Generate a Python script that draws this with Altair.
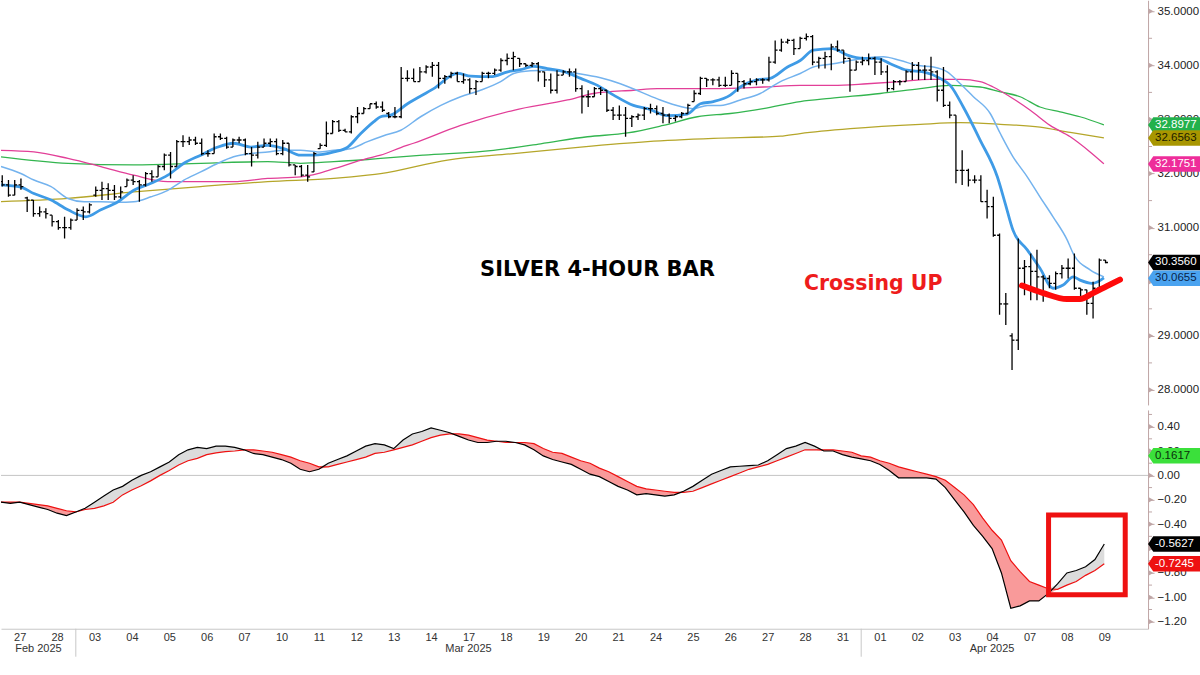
import altair as alt
import pandas as pd

W = 1148
H_TOP = 405
H_BOT = 219
X_MAX = 30.67
P_DOMAIN = [27.723, 35.203]
M_DOMAIN = [-1.258, 0.537]
AX = "#bfa6a6"

# ---------------- 4-hour OHLC bars ----------------
opens = [31.85, 31.79, 31.60, 31.79, 31.55, 31.51, 31.26, 31.29, 31.23, 31.11,
         31.00, 31.00, 31.14, 31.32, 31.29, 31.60, 31.69, 31.72, 31.69, 31.57,
         31.76, 31.88, 31.85, 31.79, 32.00, 31.94, 32.13, 32.34, 32.13, 32.59,
         32.59, 32.62, 32.56, 32.37, 32.37, 32.68, 32.65, 32.49, 32.62, 32.62,
         32.37, 32.34, 32.49, 32.56, 32.59, 32.37, 32.56, 32.16, 32.13, 31.97,
         32.03, 32.46, 32.52, 32.74, 32.96, 32.80, 32.77, 33.05, 33.11, 33.20,
         33.29, 33.23, 33.11, 33.05, 33.05, 33.76, 33.76, 33.70, 33.88, 33.97,
         34.00, 33.76, 33.79, 33.85, 33.70, 33.73, 33.57, 33.70, 33.85, 33.85,
         33.91, 34.09, 34.13, 34.13, 34.03, 34.00, 34.03, 33.88, 33.73, 33.54,
         33.82, 33.88, 33.88, 33.57, 33.42, 33.42, 33.57, 33.54, 33.17, 33.08,
         33.08, 33.02, 33.05, 33.08, 33.20, 33.20, 33.11, 33.08, 33.02, 33.05,
         33.11, 33.33, 33.48, 33.76, 33.73, 33.73, 33.63, 33.63, 33.85, 33.70,
         33.66, 33.70, 33.73, 33.73, 34.06, 34.28, 34.43, 34.46, 34.31, 34.50,
         34.53, 34.06, 34.13, 34.16, 34.34, 34.28, 34.13, 33.91, 34.06, 34.09,
         34.13, 34.06, 33.88, 33.57, 33.70, 33.70, 33.88, 34.00, 33.91, 33.91,
         33.88, 33.54, 33.26, 33.08, 32.06, 32.06, 31.88, 31.88, 31.48, 31.39,
         30.86, 29.59, 29.00, 28.92, 30.25, 30.28, 30.19, 30.09, 30.06, 29.97,
         30.15, 30.25, 30.25, 29.88, 29.85, 29.60, 29.88, 30.40]
highs = [31.97, 31.88, 31.88, 31.91, 31.57, 31.51, 31.39, 31.36, 31.23, 31.14,
         31.20, 31.17, 31.36, 31.39, 31.45, 31.76, 31.85, 31.82, 31.79, 31.76,
         31.91, 31.97, 31.88, 32.03, 32.06, 32.16, 32.37, 32.40, 32.62, 32.71,
         32.68, 32.68, 32.65, 32.43, 32.74, 32.74, 32.68, 32.65, 32.68, 32.65,
         32.49, 32.59, 32.65, 32.65, 32.65, 32.62, 32.56, 32.16, 32.16, 32.16,
         32.40, 32.56, 32.96, 32.99, 32.99, 32.83, 33.08, 33.23, 33.23, 33.29,
         33.33, 33.33, 33.14, 33.23, 33.97, 33.91, 33.94, 33.97, 34.00, 34.06,
         34.06, 33.82, 33.88, 33.88, 33.85, 33.76, 33.73, 33.88, 33.88, 33.94,
         34.13, 34.22, 34.25, 34.13, 34.03, 34.06, 34.06, 33.88, 33.85, 33.91,
         33.91, 33.94, 33.94, 33.63, 33.54, 33.60, 33.60, 33.54, 33.23, 33.26,
         33.23, 33.08, 33.11, 33.23, 33.29, 33.26, 33.23, 33.11, 33.08, 33.14,
         33.29, 33.54, 33.79, 33.76, 33.76, 33.79, 33.79, 33.91, 33.85, 33.73,
         33.76, 33.76, 33.76, 34.16, 34.46, 34.49, 34.49, 34.49, 34.53, 34.59,
         34.56, 34.16, 34.25, 34.40, 34.46, 34.28, 34.13, 34.09, 34.16, 34.22,
         34.16, 34.13, 34.00, 33.73, 33.73, 33.91, 34.06, 34.06, 34.00, 34.16,
         33.91, 33.97, 33.33, 33.08, 32.43, 32.09, 31.97, 31.97, 31.70, 31.57,
         30.89, 29.79, 29.05, 30.80, 30.40, 30.52, 30.59, 30.12, 30.12, 30.19,
         30.31, 30.43, 30.52, 29.88, 29.85, 30.00, 30.43, 30.40]
lows = [31.76, 31.57, 31.60, 31.70, 31.29, 31.20, 31.20, 31.17, 31.02, 30.96,
        30.80, 30.96, 31.14, 31.14, 31.26, 31.57, 31.51, 31.51, 31.51, 31.54,
        31.76, 31.79, 31.48, 31.76, 31.85, 31.94, 32.06, 31.91, 32.13, 32.49,
        32.53, 32.53, 32.34, 32.31, 32.37, 32.62, 32.46, 32.49, 32.56, 32.34,
        32.13, 32.28, 32.49, 32.49, 32.34, 32.34, 32.13, 31.97, 31.94, 31.85,
        32.03, 32.46, 32.49, 32.74, 32.77, 32.77, 32.74, 32.93, 33.11, 33.20,
        33.20, 33.14, 33.02, 33.02, 33.02, 33.70, 33.70, 33.70, 33.85, 33.79,
        33.57, 33.66, 33.76, 33.70, 33.66, 33.48, 33.45, 33.70, 33.76, 33.82,
        33.88, 34.00, 33.91, 33.97, 33.97, 33.97, 33.70, 33.60, 33.48, 33.48,
        33.82, 33.79, 33.51, 33.11, 33.23, 33.42, 33.45, 33.14, 32.99, 32.99,
        32.68, 32.86, 32.99, 32.99, 33.11, 33.08, 32.93, 32.93, 32.96, 33.02,
        33.11, 33.33, 33.45, 33.60, 33.63, 33.60, 33.60, 33.63, 33.51, 33.57,
        33.63, 33.63, 33.66, 33.70, 34.03, 34.25, 34.40, 34.19, 34.31, 34.46,
        34.00, 33.94, 33.94, 33.91, 34.25, 34.03, 33.51, 33.91, 34.00, 34.00,
        33.82, 33.82, 33.51, 33.54, 33.63, 33.70, 33.73, 33.73, 33.73, 33.73,
        33.33, 33.23, 33.02, 31.82, 31.79, 31.76, 31.82, 31.48, 31.17, 30.83,
        29.39, 29.20, 28.37, 28.74, 29.75, 29.66, 29.66, 29.63, 29.88, 29.85,
        30.06, 30.06, 29.85, 29.69, 29.39, 29.32, 29.88, 30.34]
closes = [31.79, 31.60, 31.79, 31.76, 31.51, 31.26, 31.29, 31.26, 31.11, 31.00,
          31.00, 31.14, 31.32, 31.29, 31.42, 31.69, 31.72, 31.69, 31.57, 31.66,
          31.88, 31.85, 31.79, 32.00, 31.94, 32.13, 32.34, 32.13, 32.59, 32.59,
          32.62, 32.56, 32.37, 32.37, 32.68, 32.65, 32.49, 32.62, 32.62, 32.37,
          32.34, 32.49, 32.56, 32.59, 32.37, 32.56, 32.16, 32.13, 31.97, 31.94,
          32.37, 32.52, 32.74, 32.96, 32.80, 32.77, 33.05, 33.11, 33.20, 33.29,
          33.23, 33.17, 33.05, 33.05, 33.76, 33.76, 33.70, 33.88, 33.97, 34.00,
          33.76, 33.79, 33.85, 33.70, 33.73, 33.57, 33.70, 33.85, 33.85, 33.91,
          34.09, 34.13, 34.16, 34.03, 34.00, 34.03, 33.88, 33.73, 33.54, 33.82,
          33.88, 33.88, 33.57, 33.42, 33.42, 33.57, 33.54, 33.17, 33.08, 33.08,
          33.02, 33.05, 33.08, 33.20, 33.20, 33.11, 33.08, 33.02, 33.05, 33.11,
          33.26, 33.48, 33.76, 33.73, 33.73, 33.63, 33.63, 33.85, 33.70, 33.66,
          33.70, 33.73, 33.73, 34.06, 34.28, 34.43, 34.46, 34.31, 34.50, 34.53,
          34.06, 34.13, 34.16, 34.34, 34.28, 34.13, 33.91, 34.06, 34.09, 34.13,
          34.06, 33.88, 33.57, 33.70, 33.70, 33.88, 34.00, 33.91, 33.91, 33.88,
          33.54, 33.26, 33.08, 32.06, 32.06, 31.88, 31.88, 31.48, 31.39, 30.86,
          29.59, 29.59, 28.92, 30.25, 30.28, 30.19, 30.09, 30.06, 29.97, 30.15,
          30.25, 30.25, 29.88, 29.85, 29.60, 29.88, 30.40, 30.356]

# ---------------- moving averages (day position, price) ----------------
ma_fast_t = [0, 0.53, 0.88, 1.34, 1.79, 2.27, 2.67, 3.13, 3.55, 4.01, 4.46, 4.89, 5.34, 5.80,
             6.22, 6.68, 7.13, 7.56, 8.01, 8.36, 8.90, 9.27, 9.62, 9.97, 10.15, 10.42, 10.87,
             11.57, 12.21, 12.56, 13.09, 13.55, 13.89, 14.24, 14.61, 15.04, 15.50, 15.95, 16.38,
             16.91, 17.29, 17.82, 18.35, 18.70, 19.05, 19.50, 19.77, 20.22, 20.57, 21.03, 21.37,
             21.72, 22.23, 22.63, 23.06, 23.43, 23.78, 24.23, 24.66, 25.11, 25.38, 25.73, 26.18,
             26.64, 26.85, 27.06, 27.44, 27.78, 28.13, 28.40, 28.67, 28.85, 29.17, 29.33, 29.49]
ma_fast_v = [31.79, 31.75, 31.63, 31.51, 31.33, 31.20, 31.33, 31.48, 31.69, 31.82, 31.97, 32.19,
             32.34, 32.49, 32.56, 32.49, 32.52, 32.46, 32.34, 32.34, 32.40, 32.49, 32.74, 32.96,
             33.05, 33.08, 33.29, 33.57, 33.85, 33.80, 33.79, 33.88, 33.92, 33.98, 33.94, 33.89,
             33.76, 33.63, 33.45, 33.26, 33.20, 33.07, 33.10, 33.29, 33.33, 33.45, 33.60, 33.73,
             33.76, 33.97, 34.09, 34.28, 34.31, 34.19, 34.13, 34.13, 34.03, 33.91, 33.88, 33.76,
             33.63, 33.23, 32.62, 31.94, 31.45, 30.95, 30.59, 30.25, 29.88, 29.94, 30.09, 30.03,
             29.97, 30.00, 30.07]
ma_slow_t = [0, 0.53, 0.88, 1.34, 1.79, 2.22, 2.67, 3.13, 3.55, 4.01, 4.46, 4.89, 5.34, 5.80,
             6.22, 6.68, 7.13, 7.56, 8.01, 8.47, 8.90, 9.35, 9.80, 10.23, 10.69, 11.22, 11.76,
             12.29, 12.82, 13.36, 13.71, 14.16, 14.61, 15.04, 15.50, 16.03, 16.56, 17.10, 17.63,
             18.17, 18.51, 18.89, 19.24, 19.77, 20.30, 20.84, 21.37, 21.72, 22.25, 22.71, 23.16,
             23.59, 24.05, 24.50, 24.93, 25.30, 25.65, 26.00, 26.45, 26.72, 27.06, 27.44, 27.78,
             28.13, 28.51, 28.67, 29.12, 29.49]
ma_slow_v = [32.13, 32.00, 31.88, 31.76, 31.54, 31.48, 31.48, 31.47, 31.48, 31.57, 31.69, 31.88,
             32.03, 32.19, 32.31, 32.37, 32.40, 32.43, 32.43, 32.40, 32.43, 32.46, 32.59, 32.70,
             32.80, 33.05, 33.26, 33.42, 33.54, 33.70, 33.85, 33.90, 33.91, 33.88, 33.84, 33.77,
             33.66, 33.51, 33.36, 33.24, 33.20, 33.26, 33.26, 33.36, 33.48, 33.70, 33.85, 33.97,
             34.03, 34.09, 34.14, 34.16, 34.09, 34.00, 33.97, 33.88, 33.66, 33.42, 33.11, 32.74,
             32.31, 31.94, 31.57, 31.20, 30.77, 30.52, 30.22, 30.09]
ma50_t = [0, 0.88, 1.79, 2.67, 3.55, 4.46, 5.34, 6.22, 7.13, 8.01, 8.47, 8.90, 9.80, 10.15,
          10.69, 11.03, 12.29, 13.71, 15.15, 15.84, 16.91, 17.55, 19.05, 20.38, 21.37, 22.25,
          23.16, 24.05, 24.85, 25.65, 26.18, 26.53, 26.98, 27.52, 28.05, 28.59, 29.12, 29.49]
ma50_v = [32.43, 32.40, 32.28, 32.13, 31.97, 31.85, 31.85, 31.85, 31.91, 31.94, 32.00, 32.09,
          32.28, 32.34, 32.48, 32.56, 32.89, 33.17, 33.36, 33.48, 33.54, 33.57, 33.57, 33.60,
          33.63, 33.63, 33.66, 33.70, 33.74, 33.74, 33.70, 33.60, 33.42, 33.17, 32.89, 32.68,
          32.40, 32.18]
ma100_t = [0, 1.79, 3.55, 5.34, 7.13, 8.01, 8.90, 9.80, 10.15, 11.30, 13.17, 14.43, 15.68,
           16.75, 17.71, 18.62, 19.50, 20.38, 21.37, 22.17, 23.51, 24.58, 25.38, 26.18, 26.72,
           27.25, 27.78, 28.32, 28.85, 29.49]
ma100_v = [32.31, 32.19, 32.16, 32.19, 32.22, 32.19, 32.22, 32.26, 32.28, 32.34, 32.43, 32.55,
           32.68, 32.75, 32.89, 33.05, 33.11, 33.20, 33.33, 33.39, 33.48, 33.57, 33.63, 33.60,
           33.51, 33.42, 33.23, 33.14, 33.05, 32.90]
ma200_t = [0, 1.79, 3.55, 5.34, 7.13, 8.90, 9.80, 10.15, 11.94, 13.71, 15.50, 17.29, 19.05,
           20.84, 21.37, 22.71, 24.58, 25.65, 26.72, 27.78, 28.59, 29.49]
ma200_v = [31.48, 31.54, 31.66, 31.76, 31.85, 31.91, 31.97, 32.00, 32.25, 32.37, 32.49, 32.59,
           32.65, 32.69, 32.74, 32.83, 32.91, 32.94, 32.91, 32.86, 32.76, 32.66]

# ---------------- MACD (every quarter day) ----------------
macd = [-0.22, -0.23, -0.22, -0.24, -0.26, -0.28, -0.31, -0.33, -0.30, -0.27,
        -0.22, -0.17, -0.12, -0.09, -0.04, 0.00, 0.03, 0.07, 0.11, 0.17,
        0.21, 0.23, 0.22, 0.24, 0.24, 0.23, 0.21, 0.18, 0.17, 0.15,
        0.13, 0.10, 0.05, 0.03, 0.05, 0.10, 0.13, 0.16, 0.20, 0.24,
        0.26, 0.25, 0.22, 0.29, 0.34, 0.36, 0.39, 0.37, 0.35, 0.32,
        0.29, 0.27, 0.27, 0.28, 0.28, 0.27, 0.25, 0.21, 0.16, 0.13,
        0.11, 0.09, 0.05, 0.01, -0.01, -0.05, -0.09, -0.12, -0.16, -0.15,
        -0.16, -0.17, -0.16, -0.13, -0.09, -0.04, 0.01, 0.04, 0.07, 0.075,
        0.08, 0.085, 0.12, 0.17, 0.22, 0.24, 0.27, 0.24, 0.20, 0.20,
        0.17, 0.15, 0.135, 0.12, 0.09, 0.04, -0.02, -0.02, -0.02, -0.02,
        -0.03, -0.10, -0.20, -0.30, -0.41, -0.50, -0.60, -0.80, -1.09, -1.07,
        -1.03, -1.03, -0.97, -0.89, -0.80, -0.78, -0.75, -0.69, -0.5627]
signal = [-0.22, -0.22, -0.22, -0.23, -0.24, -0.25, -0.27, -0.29, -0.30, -0.28,
          -0.27, -0.25, -0.22, -0.16, -0.12, -0.085, -0.045, 0.00, 0.04, 0.085,
          0.12, 0.14, 0.17, 0.185, 0.195, 0.20, 0.21, 0.21, 0.20, 0.19,
          0.17, 0.15, 0.12, 0.10, 0.07, 0.07, 0.09, 0.11, 0.13, 0.15,
          0.18, 0.19, 0.21, 0.23, 0.25, 0.28, 0.31, 0.33, 0.34, 0.34,
          0.33, 0.31, 0.29, 0.28, 0.27, 0.27, 0.27, 0.26, 0.22, 0.19,
          0.18, 0.15, 0.12, 0.10, 0.06, 0.03, -0.01, -0.05, -0.09, -0.11,
          -0.12, -0.13, -0.14, -0.14, -0.13, -0.10, -0.07, -0.04, -0.01, 0.02,
          0.05, 0.07, 0.09, 0.12, 0.15, 0.18, 0.21, 0.21, 0.21, 0.21,
          0.20, 0.19, 0.16, 0.15, 0.12, 0.10, 0.07, 0.05, 0.03, 0.01,
          -0.01, -0.04, -0.10, -0.16, -0.24, -0.35, -0.45, -0.53, -0.70, -0.79,
          -0.87, -0.90, -0.93, -0.935, -0.90, -0.87, -0.82, -0.78, -0.7245]

# ---------------- labels / annotations ----------------
day_labels = ["27", "28", "03", "04", "05", "06", "07", "10", "11", "12", "13", "14", "17", "18",
              "19", "20", "21", "24", "25", "26", "27", "28", "31", "01", "02", "03", "04", "07",
              "08", "09"]
months = ["Feb 2025", "Mar 2025", "Apr 2025"]
month_t = [1.0, 12.5, 26.5]
sep_t = [2.0, 23.0]
price_ticks = [28, 29, 30, 31, 32, 33, 34, 35]
price_minor = [28.5, 29.5, 30.5, 31.5, 32.5, 33.5, 34.5]
price_hidden = [30]          # label fully covered by a value tag
macd_ticks = [0.4, 0.2, 0.0, -0.2, -0.4, -0.6, -0.8, -1.0, -1.2]
macd_minor = [0.5, 0.3, 0.1, -0.1, -0.3, -0.5, -0.7, -0.9, -1.1]
macd_hidden = [-0.6]         # label fully covered by a value tag

top_tag_v = [32.8977, 32.6563, 32.1751, 30.3560, 30.0655]
top_tag_fill = ["#22b14c", "#a89600", "#ee2d9a", "#000000", "#4aa3f0"]
top_tag_text = ["#ffffff", "#1c1c00", "#ffffff", "#ffffff", "#0a2448"]
bot_tag_v = [0.1617, -0.5627, -0.7245]
bot_tag_fill = ["#3be03b", "#000000", "#ee1111"]
bot_tag_text = ["#0a300a", "#ffffff", "#ffffff"]

curve_t = [27.30, 27.87, 28.50, 28.85, 29.20, 29.57, 29.92]
curve_p = [29.93, 29.79, 29.68, 29.68, 29.79, 29.92, 30.04]
box_t = [28.01, 30.06]
box_v = [-0.324, -0.98]
note_t = [15.95, 23.32]
note_v = [30.216, 29.958]
note_txt = ["SILVER 4-HOUR BAR", "Crossing UP"]

# ---------------- build ----------------
xs = alt.Scale(domain=[0, X_MAX], nice=False, zero=False)
ys = alt.Scale(domain=P_DOMAIN, nice=False, zero=False)
ms = alt.Scale(domain=M_DOMAIN, nice=False, zero=False)


def hide_expr(hidden, fmt):
    cond = " || ".join("abs(datum.value - (%s)) < 1e-6" % h for h in hidden)
    return "(%s) ? '' : format(datum.value, '%s')" % (cond, fmt)


price_axis = alt.Axis(orient="right", values=price_ticks, labelExpr=hide_expr(price_hidden, ".4f"),
                      grid=False, domainColor=AX, tickColor=AX, tickSize=6, labelPadding=3,
                      labelFontSize=11.5, labelColor="#222", title=None,
                      labelFont="Liberation Sans")
macd_axis = alt.Axis(orient="right", values=macd_ticks, labelExpr=hide_expr(macd_hidden, ".2f"),
                     grid=False, domainColor=AX, tickColor=AX, tickSize=6, labelPadding=3,
                     labelFontSize=11.5, labelColor="#222", title=None,
                     labelFont="Liberation Sans")
label_expr = "[" + ",".join("'%s'" % d for d in day_labels) + "][floor(datum.value)]"
day_axis = alt.Axis(values=[d + 0.5 for d in range(len(day_labels))], labelExpr=label_expr,
                    ticks=False, grid=False, domainColor="#c8c8c8", labelPadding=3,
                    labelFontSize=11, labelColor="#333", labelOverlap=False,
                    labelFlush=False, title=None, labelFont="Liberation Sans")


def TX(f="t"):
    return alt.X(f, type="quantitative", scale=xs, axis=None)


def BX(f="t"):
    return alt.X(f, type="quantitative", scale=xs, axis=day_axis)


def PY(f):
    return alt.Y(f, type="quantitative", scale=ys, axis=price_axis)


def MY(f):
    return alt.Y(f, type="quantitative", scale=ms, axis=macd_axis)


bars = pd.DataFrame({"t": [(i + 0.2) / 6 for i in range(len(closes))],
                     "o": opens, "h": highs, "l": lows, "c": closes})
bars["tl"] = bars["t"] - 0.065
bars["tr"] = bars["t"] + 0.065


def ma_line(ts, vs, color, width):
    df = pd.DataFrame({"t": ts, "v": vs})
    return alt.Chart(df).mark_line(color=color, strokeWidth=width, clip=True,
                                   interpolate="monotone").encode(x=TX(), y=PY("v"))


ma_layers = [
    ma_line(ma200_t, ma200_v, "#b5a62a", 1.3),
    ma_line(ma100_t, ma100_v, "#33b54f", 1.3),
    ma_line(ma50_t, ma50_v, "#e23f98", 1.3),
    ma_line(ma_slow_t, ma_slow_v, "#74b3ee", 1.5),
    ma_line(ma_fast_t, ma_fast_v, "#3f9be6", 2.8),
]

bar_base = alt.Chart(bars)
hl = bar_base.mark_rule(color="black", strokeWidth=1.3, clip=True).encode(
    x=TX(), y=PY("l"), y2="h")
op = bar_base.mark_rule(color="black", strokeWidth=1.3, clip=True).encode(
    x=TX("tl"), x2="t", y=PY("o"))
cl = bar_base.mark_rule(color="black", strokeWidth=1.3, clip=True).encode(
    x=TX("t"), x2="tr", y=PY("c"))

curve = alt.Chart(pd.DataFrame({"t": curve_t, "v": curve_p})).mark_line(
    color="#ff0a0a", strokeWidth=6, strokeCap="round", interpolate="monotone", clip=True
).encode(x=TX(), y=PY("v"))

notes = pd.DataFrame({"t": note_t, "v": note_v, "txt": note_txt})
note1 = alt.Chart(notes.iloc[[0]]).mark_text(font="DejaVu Sans", fontWeight="bold",
                                             fontSize=21, color="#000000").encode(
    x=TX(), y=PY("v"), text="txt:N")
note2 = alt.Chart(notes.iloc[[1]]).mark_text(font="DejaVu Sans", fontWeight="bold",
                                             fontSize=20.5, color="#ee1c1c").encode(
    x=TX(), y=PY("v"), text="txt:N")

TAG = "M -1 0 L -0.8 -0.3 L 1 -0.3 L 1 0.3 L -0.8 0.3 Z"


def axis_decor(vals, minors, yfun):
    tri = alt.Chart(pd.DataFrame({"v": vals})).mark_point(
        shape="triangle-right", size=28, filled=True, opacity=1, color=AX
    ).encode(x=alt.value(W + 3), y=yfun("v"))
    mn = alt.Chart(pd.DataFrame({"v": minors})).mark_rule(color=AX, strokeWidth=1).encode(
        x=alt.value(W), x2=alt.value(W + 4), y=yfun("v"))
    return [tri, mn]


def tags(vals, fills, tcols, yfun, fmt):
    df = pd.DataFrame({"v": vals, "fill": fills, "tc": tcols,
                       "lab": [fmt % v for v in vals]})
    shape = alt.Chart(df).mark_point(shape=TAG, size=2704, filled=True, opacity=1,
                                     strokeWidth=0).encode(
        x=alt.value(W + 26), y=yfun("v"), color=alt.Color("fill:N", scale=None))
    txt = alt.Chart(df).mark_text(align="left", baseline="middle", fontSize=11.5,
                                  font="Liberation Sans").encode(
        x=alt.value(W + 7), y=yfun("v"), text="lab:N",
        color=alt.Color("tc:N", scale=None))
    return [shape, txt]


top = alt.layer(
    *ma_layers, hl, op, cl, curve, note1, note2,
    *axis_decor(price_ticks, price_minor, PY),
    *tags(top_tag_v, top_tag_fill, top_tag_text, PY, "%.4f"),
).properties(width=W, height=H_TOP)

# ---------------- MACD panel ----------------
mdf = pd.DataFrame({"t": [k / 4 for k in range(len(macd))], "m": macd, "s": signal})
mbase = alt.Chart(mdf).transform_calculate(
    hi="max(datum.m, datum.s)", lo="min(datum.m, datum.s)")
gray_fill = mbase.mark_area(color="#dcdcdc", clip=True).encode(x=BX(), y=MY("s"), y2="hi:Q")
red_fill = mbase.mark_area(color="#f99a9a", clip=True).encode(x=BX(), y=MY("s"), y2="lo:Q")
sig_line = alt.Chart(mdf).mark_line(color="#ee1111", strokeWidth=1.2, clip=True).encode(
    x=BX(), y=MY("s"))
macd_line = alt.Chart(mdf).mark_line(color="#000000", strokeWidth=1.2, clip=True).encode(
    x=BX(), y=MY("m"))
zero = alt.Chart(pd.DataFrame({"v": [0.0]})).mark_rule(color="#c4c4c4", strokeWidth=1).encode(
    x=alt.value(0), x2=alt.value(W), y=MY("v"))
box = alt.Chart(pd.DataFrame({"t0": [box_t[0]], "t1": [box_t[1]],
                              "v0": [box_v[0]], "v1": [box_v[1]]})).mark_rect(
    fillOpacity=0, stroke="#ee1111", strokeWidth=5).encode(
    x=BX("t0"), x2="t1", y=MY("v0"), y2="v1")
month_txt = alt.Chart(pd.DataFrame({"t": month_t, "lab": months})).mark_text(
    fontSize=11, color="#333", font="Liberation Sans", baseline="middle").encode(
    x=BX(), y=alt.value(H_BOT + 20), text="lab:N")
seps = alt.Chart(pd.DataFrame({"t": sep_t})).mark_rule(color="#c8c8c8", strokeWidth=1).encode(
    x=BX(), y=alt.value(H_BOT), y2=alt.value(H_BOT + 28))

bottom = alt.layer(
    zero, gray_fill, red_fill, sig_line, macd_line, box, seps, month_txt,
    *axis_decor(macd_ticks, macd_minor, MY),
    *tags(bot_tag_v, bot_tag_fill, bot_tag_text, MY, "%.4f"),
).properties(width=W, height=H_BOT)

chart = alt.vconcat(top, bottom, spacing=5).properties(
    padding=0, background="white"
).configure(font="Liberation Sans").configure_view(stroke=None)

chart.save("out.html", embed_options={"renderer": "svg", "actions": False})
